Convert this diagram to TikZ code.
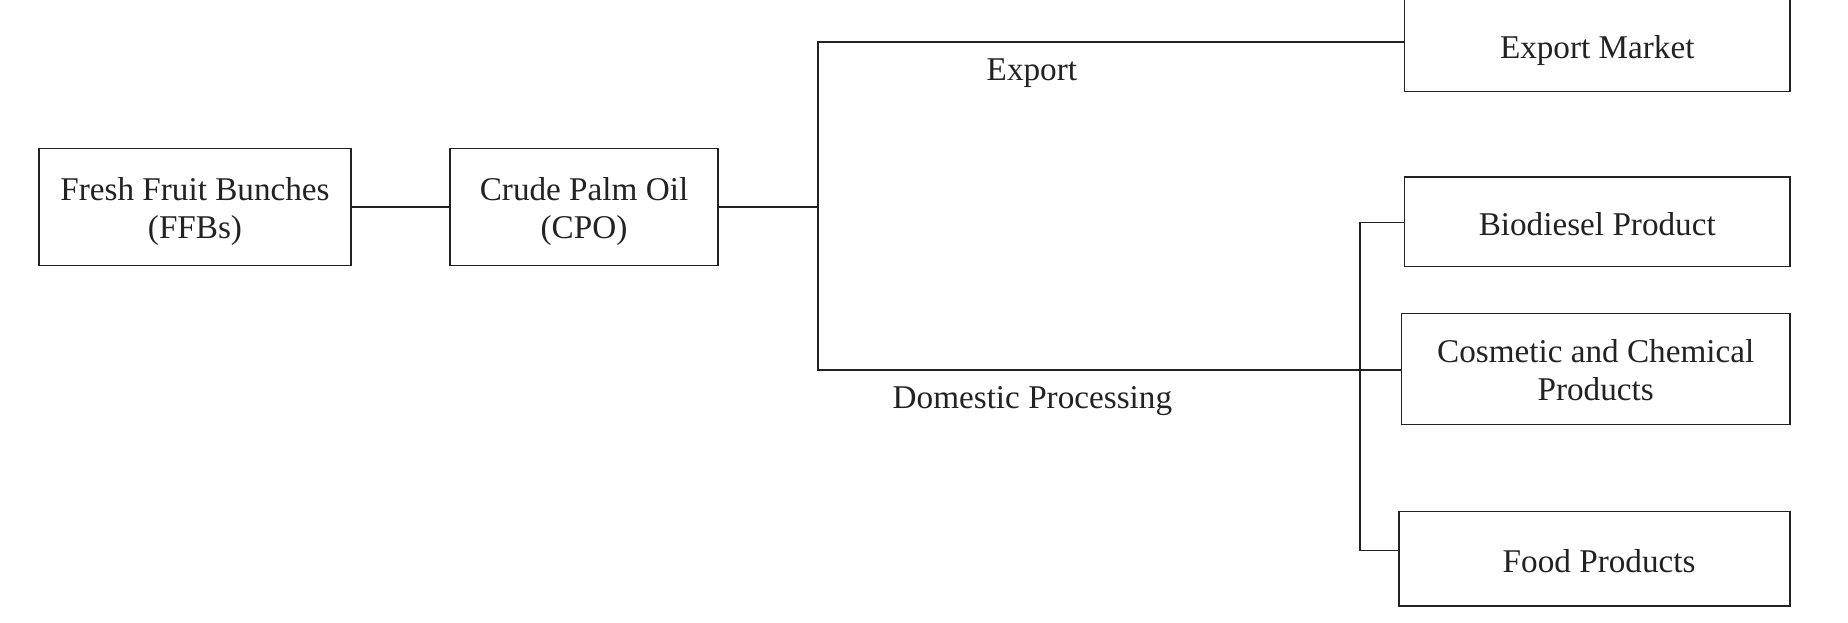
\documentclass[tikz,border=0pt]{standalone}
\usepackage{fontspec}
\setmainfont{Liberation Serif}
\definecolor{ink}{HTML}{222222}
\begin{document}
\begin{tikzpicture}[x=0.5pt,y=-0.5pt,
  box/.style={draw=ink,line width=0.75pt,inner sep=0pt},
  tx/.style={inner sep=0pt,align=center,text=ink,font=\fontsize{16.6}{19}\selectfont},
  lbl/.style={inner sep=0pt,text=ink,font=\fontsize{16.6}{19}\selectfont},
  conn/.style={draw=ink,line width=0.75pt}]
\useasboundingbox (0,0) rectangle (1848,622);
\node[box,minimum width=156.15pt,minimum height=58.35pt,
  label={[tx,yshift=-2.35pt]center:Fresh Fruit Bunches\\(FFBs)}] (ffb) at (195,206.9) {};
\node[box,minimum width=133.8pt,minimum height=58.35pt,
  label={[tx,yshift=-2.35pt]center:Crude Palm Oil\\(CPO)}] (cpo) at (584,206.9) {};
\node[box,minimum width=192.75pt,minimum height=46.85pt,
  label={[tx,yshift=-2.95pt]center:Export Market}] (exp) at (1597.25,44.85) {};
\node[box,minimum width=192.75pt,minimum height=44.8pt,
  label={[tx,yshift=-1.2pt]center:Biodiesel Product}] (bio) at (1597.25,221.6) {};
\node[box,minimum width=194.3pt,minimum height=55.4pt,
  label={[tx,yshift=-0.6pt]center:Cosmetic and Chemical\\Products}] (cos) at (1595.7,368.9) {};
\node[box,minimum width=195.5pt,minimum height=47.25pt,
  label={[tx,yshift=-1.2pt,xshift=2.3pt]center:Food Products}] (food) at (1594.5,558.75) {};
\node[lbl] (lexp) at (1031.9,73.1) {Export};
\node[lbl] (ldom) at (1032.4,400.7) {Domestic Processing};
\coordinate (j1) at (818,206.9);
\coordinate (t1) at (818,42);
\coordinate (b1) at (818,370.1);
\coordinate (v1) at (1360,222.7);
\coordinate (f1) at (1360,550.7);
\draw[conn] (ffb.east) -- (cpo.west);
\draw[conn] (cpo.east) -- (j1);
\draw[conn] (exp.west |- t1) -- (t1) -- (b1) -- (cos.west |- b1);
\draw[conn] (bio.west |- v1) -- (v1) -- (f1) -- (food.west |- f1);
\end{tikzpicture}
\end{document}
